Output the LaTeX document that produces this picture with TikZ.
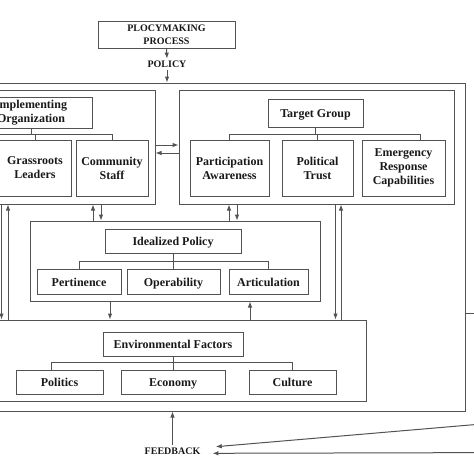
\documentclass[tikz,border=0pt]{standalone}
\usepackage{fontspec}
\setmainfont{Liberation Serif}
\usetikzlibrary{arrows.meta}

\begin{document}
\begin{tikzpicture}[x=1pt, y=-1pt, color=black!68, line width=1pt,
		>={Latex[length=6pt,width=4.6pt]},
		box/.style={draw, inner sep=0pt, align=center, text=black!90,
			font=\fontsize{12}{14}\selectfont\bfseries},
		oneline/.style={box, text height=9.5pt, text depth=1.5pt},
		frame/.style={draw, inner sep=0pt},
		caps/.style={align=center, text=black!90, inner sep=2pt,
			font=\fontsize{10}{13}\selectfont\bfseries}]
		\useasboundingbox (0,0) rectangle (474,474);

		\coordinate (c1)  at (1.5,   0);
		\coordinate (c2)  at (8,     0);
		\coordinate (c3)  at (93,    0);
		\coordinate (c4)  at (101,   0);
		\coordinate (c5)  at (110,   0);
		\coordinate (c7)  at (229,   0);
		\coordinate (c8)  at (237,   0);
		\coordinate (c9)  at (250,   0);
		\coordinate (c10) at (335.5, 0);
		\coordinate (c11) at (341,   0);

		\coordinate (il)  at (-20, 134);
		\coordinate (rs)  at (480, 313);
		\coordinate (fb1) at (490, 423.3);
		\coordinate (fb2) at (490, 452.6);

		\node[box, font=\fontsize{10}{13}\selectfont\bfseries, minimum width=137pt, minimum height=27pt]
			(pmp) at (166.5,34.5) {PLOCYMAKING\\PROCESS};
		\node[caps] (policy) at (167,64.5) {POLICY};

		\node[frame, minimum width=480pt, minimum height=328pt] (outer) at (225,247) {};

		\node[frame, minimum width=200pt, minimum height=114pt] (impl) at (55,147) {};
		\node[box, minimum width=122pt, minimum height=31pt] (implorg) at (31,112.5) {Implementing\\Organization};
		\node[box, minimum width=72pt, minimum height=56pt] (grass) at (35,168) {Grassroots\\Leaders};
		\node[box, minimum width=72pt, minimum height=56pt] (staff) at (112,168) {Community\\Staff};

		\node[frame, minimum width=275pt, minimum height=114pt] (target) at (316.5,147) {};
		\node[oneline, minimum width=95pt, minimum height=28pt] (tgroup) at (315.5,113) {Target Group};
		\node[box, minimum width=79pt, minimum height=56pt] (aware) at (229.5,168) {Participation\\Awareness};
		\node[box, minimum width=71pt, minimum height=56pt] (trust) at (317.5,168) {Political\\Trust};
		\node[box, minimum width=83pt, minimum height=56pt] (emerg) at (403.5,168) {Emergency\\Response\\Capabilities};

		\node[frame, minimum width=290pt, minimum height=80pt] (ideal) at (175,261) {};
		\node[oneline, minimum width=136pt, minimum height=24pt] (ipolicy) at (173,241) {Idealized Policy};
		\node[oneline, minimum width=84pt, minimum height=25pt] (pert) at (79,282) {Pertinence};
		\node[oneline, minimum width=93pt, minimum height=25pt] (oper) at (173.5,282) {Operability};
		\node[oneline, minimum width=79pt, minimum height=25pt] (artic) at (268.5,282) {Articulation};

		\node[frame, minimum width=396pt, minimum height=81pt] (env) at (168,360.5) {};
		\node[oneline, minimum width=140pt, minimum height=24pt] (efactors) at (173,344) {Environmental Factors};
		\node[oneline, minimum width=87pt, minimum height=24pt] (politics) at (59.5,382) {Politics};
		\node[oneline, minimum width=104pt, minimum height=24pt] (economy) at (173,382) {Economy};
		\node[oneline, minimum width=87pt, minimum height=24pt] (culture) at (292.5,382) {Culture};

		\node[caps] (feedback) at (172.5,451) {FEEDBACK};

		\draw (implorg.south) -- (implorg.south |- il);
		\draw (il) -| (staff.north);
		\draw (grass.north) -- (grass.north |- il);

		\draw (tgroup.south) -- ++(0,7) coordinate (tj);
		\draw (aware.north) |- ([xshift=16.5pt]emerg.north |- tj) -- ([xshift=16.5pt]emerg.north);
		\draw (trust.north) -- (trust.north |- tj);

		\draw (ipolicy.south) -- ++(0,8) coordinate (pj);
		\draw (pert.north) |- (artic.north |- pj) -- (artic.north);
		\draw (oper.north) -- (oper.north |- pj);

		\draw (efactors.south) -- ++(0,6) coordinate (ej);
		\draw ([xshift=-8.5pt]politics.north) |- (culture.north |- ej) -- (culture.north);
		\draw (economy.north) -- (economy.north |- ej);

		\draw (policy.north) [<-]-- (pmp.south);
		\draw (policy.south |- outer.north) [<-]-- (policy.south);

		\draw ([yshift=2pt]target.west) [<-]-- ([yshift=2pt]impl.east);
		\draw ([yshift=-6pt]impl.east) [<-]-- ([yshift=-6pt]target.west);

		\draw (c1 |- env.north) [<-]-- (c1 |- impl.south);
		\draw (c2 |- impl.south) [<-]-- (c2 |- env.north);
		\draw (c3 |- impl.south) [<-]-- (c3 |- ideal.north);
		\draw (c4 |- ideal.north) [<-]-- (c4 |- impl.south);
		\draw (c7 |- target.south) [<-]-- (c7 |- ideal.north);
		\draw (c8 |- ideal.north) [<-]-- (c8 |- target.south);
		\draw (c5 |- env.north) [<-]-- (c5 |- ideal.south);
		\draw (c9 |- ideal.south) [<-]-- (c9 |- env.north);
		\draw (c10 |- env.north) [<-]-- (c10 |- target.south);
		\draw (c11 |- target.south) [<-]-- (c11 |- env.north);

		\draw (feedback.north |- outer.south) [<-]-- (feedback.north);
		\draw (outer.east |- rs) -- (rs);
		\draw ([shift={(13pt,4.3pt)}]feedback.east) [<-]-- (fb1);
		\draw ([shift={(9.7pt,-2.3pt)}]feedback.east) [<-]-- (fb2);
	\end{tikzpicture}
\end{document}
